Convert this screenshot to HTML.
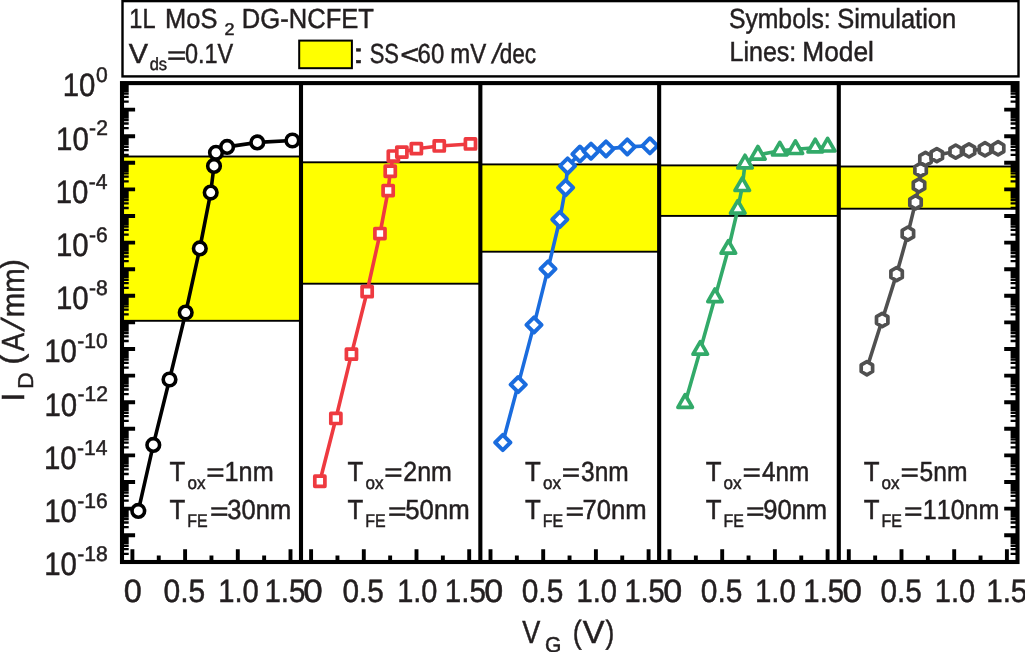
<!DOCTYPE html>
<html><head><meta charset="utf-8"><title>1L MoS2 DG-NCFET</title>
<style>html,body{margin:0;padding:0;background:#fff;overflow:hidden}svg{display:block}</style>
</head><body>
<svg width="1025" height="652" viewBox="0 0 1025 652" font-family="'Liberation Sans', sans-serif" style="font-kerning:none;text-rendering:geometricPrecision">
<rect x="0" y="0" width="1025" height="652" fill="#fff"/>
<rect x="122.5" y="1.1" width="896" height="75.3" fill="#fff" stroke="#000" stroke-width="2.4"/>
<rect x="122.0" y="156.5" width="179.0" height="164.3" fill="#ffff00" stroke="#000" stroke-width="1.9"/>
<rect x="301.0" y="162.3" width="179.4" height="121.4" fill="#ffff00" stroke="#000" stroke-width="1.9"/>
<rect x="480.35" y="164.4" width="178.8" height="87.3" fill="#ffff00" stroke="#000" stroke-width="1.9"/>
<rect x="659.15" y="165.4" width="179.6" height="50.5" fill="#ffff00" stroke="#000" stroke-width="1.9"/>
<rect x="838.8" y="166.5" width="178.7" height="42.2" fill="#ffff00" stroke="#000" stroke-width="1.9"/>
<rect x="299.2" y="40.6" width="52.7" height="27.6" fill="#ffff00" stroke="#000" stroke-width="2"/>
<path d="M122.0 109.60H135.1 M1017.45 109.60H1004.2 M122.0 136.20H135.1 M1017.45 136.20H1004.2 M122.0 162.80H135.1 M1017.45 162.80H1004.2 M122.0 189.40H135.1 M1017.45 189.40H1004.2 M122.0 216.00H135.1 M1017.45 216.00H1004.2 M122.0 242.60H135.1 M1017.45 242.60H1004.2 M122.0 269.20H135.1 M1017.45 269.20H1004.2 M122.0 295.80H135.1 M1017.45 295.80H1004.2 M122.0 322.40H135.1 M1017.45 322.40H1004.2 M122.0 349.00H135.1 M1017.45 349.00H1004.2 M122.0 375.60H135.1 M1017.45 375.60H1004.2 M122.0 402.20H135.1 M1017.45 402.20H1004.2 M122.0 428.80H135.1 M1017.45 428.80H1004.2 M122.0 455.40H135.1 M1017.45 455.40H1004.2 M122.0 482.00H135.1 M1017.45 482.00H1004.2 M122.0 508.60H135.1 M1017.45 508.60H1004.2 M122.0 535.20H135.1 M1017.45 535.20H1004.2" stroke="#000" stroke-width="3.9" fill="none"/>
<path d="M122.0 101.59H128.7 M1017.45 101.59H1010.6 M122.0 96.91H128.7 M1017.45 96.91H1010.6 M122.0 93.59H128.7 M1017.45 93.59H1010.6 M122.0 91.01H128.7 M1017.45 91.01H1010.6 M122.0 88.90H128.7 M1017.45 88.90H1010.6 M122.0 87.12H128.7 M1017.45 87.12H1010.6 M122.0 85.58H128.7 M1017.45 85.58H1010.6 M122.0 84.22H128.7 M1017.45 84.22H1010.6 M122.0 128.19H128.7 M1017.45 128.19H1010.6 M122.0 123.51H128.7 M1017.45 123.51H1010.6 M122.0 120.19H128.7 M1017.45 120.19H1010.6 M122.0 117.61H128.7 M1017.45 117.61H1010.6 M122.0 115.50H128.7 M1017.45 115.50H1010.6 M122.0 113.72H128.7 M1017.45 113.72H1010.6 M122.0 112.18H128.7 M1017.45 112.18H1010.6 M122.0 110.82H128.7 M1017.45 110.82H1010.6 M122.0 154.79H128.7 M1017.45 154.79H1010.6 M122.0 150.11H128.7 M1017.45 150.11H1010.6 M122.0 146.79H128.7 M1017.45 146.79H1010.6 M122.0 144.21H128.7 M1017.45 144.21H1010.6 M122.0 142.10H128.7 M1017.45 142.10H1010.6 M122.0 140.32H128.7 M1017.45 140.32H1010.6 M122.0 138.78H128.7 M1017.45 138.78H1010.6 M122.0 137.42H128.7 M1017.45 137.42H1010.6 M122.0 181.39H128.7 M1017.45 181.39H1010.6 M122.0 176.71H128.7 M1017.45 176.71H1010.6 M122.0 173.39H128.7 M1017.45 173.39H1010.6 M122.0 170.81H128.7 M1017.45 170.81H1010.6 M122.0 168.70H128.7 M1017.45 168.70H1010.6 M122.0 166.92H128.7 M1017.45 166.92H1010.6 M122.0 165.38H128.7 M1017.45 165.38H1010.6 M122.0 164.02H128.7 M1017.45 164.02H1010.6 M122.0 207.99H128.7 M1017.45 207.99H1010.6 M122.0 203.31H128.7 M1017.45 203.31H1010.6 M122.0 199.99H128.7 M1017.45 199.99H1010.6 M122.0 197.41H128.7 M1017.45 197.41H1010.6 M122.0 195.30H128.7 M1017.45 195.30H1010.6 M122.0 193.52H128.7 M1017.45 193.52H1010.6 M122.0 191.98H128.7 M1017.45 191.98H1010.6 M122.0 190.62H128.7 M1017.45 190.62H1010.6 M122.0 234.59H128.7 M1017.45 234.59H1010.6 M122.0 229.91H128.7 M1017.45 229.91H1010.6 M122.0 226.59H128.7 M1017.45 226.59H1010.6 M122.0 224.01H128.7 M1017.45 224.01H1010.6 M122.0 221.90H128.7 M1017.45 221.90H1010.6 M122.0 220.12H128.7 M1017.45 220.12H1010.6 M122.0 218.58H128.7 M1017.45 218.58H1010.6 M122.0 217.22H128.7 M1017.45 217.22H1010.6 M122.0 261.19H128.7 M1017.45 261.19H1010.6 M122.0 256.51H128.7 M1017.45 256.51H1010.6 M122.0 253.19H128.7 M1017.45 253.19H1010.6 M122.0 250.61H128.7 M1017.45 250.61H1010.6 M122.0 248.50H128.7 M1017.45 248.50H1010.6 M122.0 246.72H128.7 M1017.45 246.72H1010.6 M122.0 245.18H128.7 M1017.45 245.18H1010.6 M122.0 243.82H128.7 M1017.45 243.82H1010.6 M122.0 287.79H128.7 M1017.45 287.79H1010.6 M122.0 283.11H128.7 M1017.45 283.11H1010.6 M122.0 279.79H128.7 M1017.45 279.79H1010.6 M122.0 277.21H128.7 M1017.45 277.21H1010.6 M122.0 275.10H128.7 M1017.45 275.10H1010.6 M122.0 273.32H128.7 M1017.45 273.32H1010.6 M122.0 271.78H128.7 M1017.45 271.78H1010.6 M122.0 270.42H128.7 M1017.45 270.42H1010.6 M122.0 314.39H128.7 M1017.45 314.39H1010.6 M122.0 309.71H128.7 M1017.45 309.71H1010.6 M122.0 306.39H128.7 M1017.45 306.39H1010.6 M122.0 303.81H128.7 M1017.45 303.81H1010.6 M122.0 301.70H128.7 M1017.45 301.70H1010.6 M122.0 299.92H128.7 M1017.45 299.92H1010.6 M122.0 298.38H128.7 M1017.45 298.38H1010.6 M122.0 297.02H128.7 M1017.45 297.02H1010.6 M122.0 340.99H128.7 M1017.45 340.99H1010.6 M122.0 336.31H128.7 M1017.45 336.31H1010.6 M122.0 332.99H128.7 M1017.45 332.99H1010.6 M122.0 330.41H128.7 M1017.45 330.41H1010.6 M122.0 328.30H128.7 M1017.45 328.30H1010.6 M122.0 326.52H128.7 M1017.45 326.52H1010.6 M122.0 324.98H128.7 M1017.45 324.98H1010.6 M122.0 323.62H128.7 M1017.45 323.62H1010.6 M122.0 367.59H128.7 M1017.45 367.59H1010.6 M122.0 362.91H128.7 M1017.45 362.91H1010.6 M122.0 359.59H128.7 M1017.45 359.59H1010.6 M122.0 357.01H128.7 M1017.45 357.01H1010.6 M122.0 354.90H128.7 M1017.45 354.90H1010.6 M122.0 353.12H128.7 M1017.45 353.12H1010.6 M122.0 351.58H128.7 M1017.45 351.58H1010.6 M122.0 350.22H128.7 M1017.45 350.22H1010.6 M122.0 394.19H128.7 M1017.45 394.19H1010.6 M122.0 389.51H128.7 M1017.45 389.51H1010.6 M122.0 386.19H128.7 M1017.45 386.19H1010.6 M122.0 383.61H128.7 M1017.45 383.61H1010.6 M122.0 381.50H128.7 M1017.45 381.50H1010.6 M122.0 379.72H128.7 M1017.45 379.72H1010.6 M122.0 378.18H128.7 M1017.45 378.18H1010.6 M122.0 376.82H128.7 M1017.45 376.82H1010.6 M122.0 420.79H128.7 M1017.45 420.79H1010.6 M122.0 416.11H128.7 M1017.45 416.11H1010.6 M122.0 412.79H128.7 M1017.45 412.79H1010.6 M122.0 410.21H128.7 M1017.45 410.21H1010.6 M122.0 408.10H128.7 M1017.45 408.10H1010.6 M122.0 406.32H128.7 M1017.45 406.32H1010.6 M122.0 404.78H128.7 M1017.45 404.78H1010.6 M122.0 403.42H128.7 M1017.45 403.42H1010.6 M122.0 447.39H128.7 M1017.45 447.39H1010.6 M122.0 442.71H128.7 M1017.45 442.71H1010.6 M122.0 439.39H128.7 M1017.45 439.39H1010.6 M122.0 436.81H128.7 M1017.45 436.81H1010.6 M122.0 434.70H128.7 M1017.45 434.70H1010.6 M122.0 432.92H128.7 M1017.45 432.92H1010.6 M122.0 431.38H128.7 M1017.45 431.38H1010.6 M122.0 430.02H128.7 M1017.45 430.02H1010.6 M122.0 473.99H128.7 M1017.45 473.99H1010.6 M122.0 469.31H128.7 M1017.45 469.31H1010.6 M122.0 465.99H128.7 M1017.45 465.99H1010.6 M122.0 463.41H128.7 M1017.45 463.41H1010.6 M122.0 461.30H128.7 M1017.45 461.30H1010.6 M122.0 459.52H128.7 M1017.45 459.52H1010.6 M122.0 457.98H128.7 M1017.45 457.98H1010.6 M122.0 456.62H128.7 M1017.45 456.62H1010.6 M122.0 500.59H128.7 M1017.45 500.59H1010.6 M122.0 495.91H128.7 M1017.45 495.91H1010.6 M122.0 492.59H128.7 M1017.45 492.59H1010.6 M122.0 490.01H128.7 M1017.45 490.01H1010.6 M122.0 487.90H128.7 M1017.45 487.90H1010.6 M122.0 486.12H128.7 M1017.45 486.12H1010.6 M122.0 484.58H128.7 M1017.45 484.58H1010.6 M122.0 483.22H128.7 M1017.45 483.22H1010.6 M122.0 527.19H128.7 M1017.45 527.19H1010.6 M122.0 522.51H128.7 M1017.45 522.51H1010.6 M122.0 519.19H128.7 M1017.45 519.19H1010.6 M122.0 516.61H128.7 M1017.45 516.61H1010.6 M122.0 514.50H128.7 M1017.45 514.50H1010.6 M122.0 512.72H128.7 M1017.45 512.72H1010.6 M122.0 511.18H128.7 M1017.45 511.18H1010.6 M122.0 509.82H128.7 M1017.45 509.82H1010.6 M122.0 553.79H128.7 M1017.45 553.79H1010.6 M122.0 549.11H128.7 M1017.45 549.11H1010.6 M122.0 545.79H128.7 M1017.45 545.79H1010.6 M122.0 543.21H128.7 M1017.45 543.21H1010.6 M122.0 541.10H128.7 M1017.45 541.10H1010.6 M122.0 539.32H128.7 M1017.45 539.32H1010.6 M122.0 537.78H128.7 M1017.45 537.78H1010.6 M122.0 536.42H128.7 M1017.45 536.42H1010.6" stroke="#000" stroke-width="2.3" fill="none"/>
<path d="M132.40 561.95V549.2 M185.10 561.95V549.2 M237.80 561.95V549.2 M290.50 561.95V549.2 M311.10 561.95V549.2 M363.80 561.95V549.2 M416.50 561.95V549.2 M469.20 561.95V549.2 M490.50 561.95V549.2 M543.20 561.95V549.2 M595.90 561.95V549.2 M648.60 561.95V549.2 M669.50 561.95V549.2 M722.20 561.95V549.2 M774.90 561.95V549.2 M827.60 561.95V549.2 M848.80 561.95V549.2 M901.50 561.95V549.2 M954.20 561.95V549.2 M1006.90 561.95V549.2" stroke="#000" stroke-width="3.9" fill="none"/>
<path d="M158.75 561.95V555.4 M211.45 561.95V555.4 M264.15 561.95V555.4 M337.45 561.95V555.4 M390.15 561.95V555.4 M442.85 561.95V555.4 M516.85 561.95V555.4 M569.55 561.95V555.4 M622.25 561.95V555.4 M695.85 561.95V555.4 M748.55 561.95V555.4 M801.25 561.95V555.4 M875.15 561.95V555.4 M927.85 561.95V555.4 M980.55 561.95V555.4" stroke="#000" stroke-width="3.9" fill="none"/>
<polyline points="138.3,510.9 153.3,444.9 169.5,379.5 185.7,312.6 199.8,248.4 210.7,192.6 214.0,165.9 216.0,152.8 227.1,146.9 257.3,142.4 292.4,140.5" fill="none" stroke="#000000" stroke-width="3.6" stroke-linejoin="round"/>
<g fill="#fff" stroke="#000000" stroke-width="3.6" stroke-linejoin="round">
<circle cx="138.3" cy="510.9" r="6.3"/>
<circle cx="153.3" cy="444.9" r="6.3"/>
<circle cx="169.5" cy="379.5" r="6.3"/>
<circle cx="185.7" cy="312.6" r="6.3"/>
<circle cx="199.8" cy="248.4" r="6.3"/>
<circle cx="210.7" cy="192.6" r="6.3"/>
<circle cx="214.0" cy="165.9" r="6.3"/>
<circle cx="216.0" cy="152.8" r="6.3"/>
<circle cx="227.1" cy="146.9" r="6.3"/>
<circle cx="257.3" cy="142.4" r="6.3"/>
<circle cx="292.4" cy="140.5" r="6.3"/>
</g>
<polyline points="319.9,481.3 335.9,418.5 351.5,354.1 367.1,291.7 380.0,233.6 388.1,190.6 390.3,171.3 393.4,156.1 401.8,152.2 416.4,148.7 439.3,146.0 470.5,144.0" fill="none" stroke="#ee3a40" stroke-width="3.6" stroke-linejoin="round"/>
<g fill="#fff" stroke="#ee3a40" stroke-width="3.7" stroke-linejoin="round">
<rect x="314.8" y="476.2" width="10.1" height="10.1"/>
<rect x="330.8" y="413.4" width="10.1" height="10.1"/>
<rect x="346.4" y="349.1" width="10.1" height="10.1"/>
<rect x="362.1" y="286.6" width="10.1" height="10.1"/>
<rect x="374.9" y="228.5" width="10.1" height="10.1"/>
<rect x="383.1" y="185.5" width="10.1" height="10.1"/>
<rect x="385.2" y="166.2" width="10.1" height="10.1"/>
<rect x="388.3" y="151.0" width="10.1" height="10.1"/>
<rect x="396.8" y="147.1" width="10.1" height="10.1"/>
<rect x="411.3" y="143.6" width="10.1" height="10.1"/>
<rect x="434.2" y="140.9" width="10.1" height="10.1"/>
<rect x="465.4" y="138.9" width="10.1" height="10.1"/>
</g>
<polyline points="502.8,442.5 518.2,384.6 534.0,324.9 548.0,268.9 559.8,219.5 565.6,187.7 567.6,165.9 579.9,154.1 591.0,151.2 606.0,148.9 627.3,146.9 649.9,145.8" fill="none" stroke="#1a6cde" stroke-width="3.6" stroke-linejoin="round"/>
<g fill="#fff" stroke="#1a6cde" stroke-width="3.9" stroke-linejoin="round">
<path d="M502.8 434.9L510.4 442.5L502.8 450.1L495.2 442.5Z"/>
<path d="M518.2 377.0L525.8 384.6L518.2 392.2L510.6 384.6Z"/>
<path d="M534.0 317.3L541.6 324.9L534.0 332.5L526.4 324.9Z"/>
<path d="M548.0 261.3L555.6 268.9L548.0 276.5L540.4 268.9Z"/>
<path d="M559.8 211.9L567.4 219.5L559.8 227.1L552.2 219.5Z"/>
<path d="M565.6 180.1L573.2 187.7L565.6 195.3L558.0 187.7Z"/>
<path d="M567.6 158.3L575.2 165.9L567.6 173.5L560.0 165.9Z"/>
<path d="M579.9 146.5L587.5 154.1L579.9 161.7L572.3 154.1Z"/>
<path d="M591.0 143.6L598.6 151.2L591.0 158.8L583.4 151.2Z"/>
<path d="M606.0 141.3L613.6 148.9L606.0 156.5L598.4 148.9Z"/>
<path d="M627.3 139.3L634.9 146.9L627.3 154.5L619.7 146.9Z"/>
<path d="M649.9 138.2L657.5 145.8L649.9 153.4L642.3 145.8Z"/>
</g>
<polyline points="685.1,403.1 700.3,350.0 715.0,297.4 728.4,249.0 737.8,209.0 742.3,186.3 745.0,163.7 757.9,154.9 779.8,150.8 795.4,149.3 815.3,147.7 827.6,146.8" fill="none" stroke="#32aa69" stroke-width="3.6" stroke-linejoin="round"/>
<g fill="#fff" stroke="#32aa69" stroke-width="3.7" stroke-linejoin="round">
<path d="M685.1 394.7L692.4 407.3L677.9 407.3Z"/>
<path d="M700.3 341.6L707.5 354.2L693.0 354.2Z"/>
<path d="M715.0 289.0L722.2 301.6L707.8 301.6Z"/>
<path d="M728.4 240.6L735.6 253.2L721.1 253.2Z"/>
<path d="M737.8 200.6L745.0 213.2L730.5 213.2Z"/>
<path d="M742.3 177.9L749.5 190.5L735.0 190.5Z"/>
<path d="M745.0 155.3L752.2 167.9L737.8 167.9Z"/>
<path d="M757.9 146.5L765.1 159.1L750.6 159.1Z"/>
<path d="M779.8 142.4L787.0 155.0L772.5 155.0Z"/>
<path d="M795.4 140.9L802.6 153.5L788.1 153.5Z"/>
<path d="M815.3 139.3L822.5 151.9L808.0 151.9Z"/>
<path d="M827.6 138.4L834.9 151.0L820.4 151.0Z"/>
</g>
<polyline points="866.9,368.2 882.2,320.0 896.6,274.1 907.9,233.6 915.5,202.3 919.0,185.4 920.6,169.8 925.5,159.0 936.8,155.1 955.7,151.6 969.0,150.4 985.0,149.3 998.1,148.3" fill="none" stroke="#505050" stroke-width="3.6" stroke-linejoin="round"/>
<g fill="#fff" stroke="#505050" stroke-width="3.7" stroke-linejoin="round">
<path d="M866.9 361.6L872.6 364.9L872.6 371.5L866.9 374.8L861.2 371.5L861.2 364.9Z"/>
<path d="M882.2 313.4L887.9 316.7L887.9 323.3L882.2 326.6L876.5 323.3L876.5 316.7Z"/>
<path d="M896.6 267.5L902.3 270.8L902.3 277.4L896.6 280.7L890.9 277.4L890.9 270.8Z"/>
<path d="M907.9 227.0L913.6 230.3L913.6 236.9L907.9 240.2L902.2 236.9L902.2 230.3Z"/>
<path d="M915.5 195.7L921.2 199.0L921.2 205.6L915.5 208.9L909.8 205.6L909.8 199.0Z"/>
<path d="M919.0 178.8L924.7 182.1L924.7 188.7L919.0 192.0L913.3 188.7L913.3 182.1Z"/>
<path d="M920.6 163.2L926.3 166.5L926.3 173.1L920.6 176.4L914.9 173.1L914.9 166.5Z"/>
<path d="M925.5 152.4L931.2 155.7L931.2 162.3L925.5 165.6L919.8 162.3L919.8 155.7Z"/>
<path d="M936.8 148.5L942.5 151.8L942.5 158.4L936.8 161.7L931.1 158.4L931.1 151.8Z"/>
<path d="M955.7 145.0L961.4 148.3L961.4 154.9L955.7 158.2L950.0 154.9L950.0 148.3Z"/>
<path d="M969.0 143.8L974.7 147.1L974.7 153.7L969.0 157.0L963.3 153.7L963.3 147.1Z"/>
<path d="M985.0 142.7L990.7 146.0L990.7 152.6L985.0 155.9L979.3 152.6L979.3 146.0Z"/>
<path d="M998.1 141.7L1003.8 145.0L1003.8 151.6L998.1 154.9L992.4 151.6L992.4 145.0Z"/>
</g>
<rect x="122.0" y="83.1" width="895.5" height="478.9" fill="none" stroke="#000" stroke-width="4.1"/>
<path d="M301.0 83.1V561.95 M480.35 83.1V561.95 M659.15 83.1V561.95 M838.8 83.1V561.95" stroke="#000" stroke-width="4.1" fill="none"/>
<text transform="translate(95.90,82.20) scale(0.9900,1)" font-size="21.3" fill="#231f20" stroke="#231f20" stroke-width="0.5">0</text>
<text transform="translate(62.78,96.40) scale(0.9098,1)" font-size="32.3" fill="#231f20" stroke="#231f20" stroke-width="0.5">10</text>
<text transform="translate(89.11,135.40) scale(0.9900,1)" font-size="21.3" fill="#231f20" stroke="#231f20" stroke-width="0.5">-2</text>
<text transform="translate(56.11,149.60) scale(0.9098,1)" font-size="32.3" fill="#231f20" stroke="#231f20" stroke-width="0.5">10</text>
<text transform="translate(88.67,188.60) scale(0.9900,1)" font-size="21.3" fill="#231f20" stroke="#231f20" stroke-width="0.5">-4</text>
<text transform="translate(55.67,202.80) scale(0.9098,1)" font-size="32.3" fill="#231f20" stroke="#231f20" stroke-width="0.5">10</text>
<text transform="translate(88.98,241.80) scale(0.9900,1)" font-size="21.3" fill="#231f20" stroke="#231f20" stroke-width="0.5">-6</text>
<text transform="translate(55.98,256.00) scale(0.9098,1)" font-size="32.3" fill="#231f20" stroke="#231f20" stroke-width="0.5">10</text>
<text transform="translate(88.97,295.00) scale(0.9900,1)" font-size="21.3" fill="#231f20" stroke="#231f20" stroke-width="0.5">-8</text>
<text transform="translate(55.97,309.20) scale(0.9098,1)" font-size="32.3" fill="#231f20" stroke="#231f20" stroke-width="0.5">10</text>
<text transform="translate(77.15,348.20) scale(0.9900,1)" font-size="21.3" fill="#231f20" stroke="#231f20" stroke-width="0.5">-10</text>
<text transform="translate(44.14,362.40) scale(0.9098,1)" font-size="32.3" fill="#231f20" stroke="#231f20" stroke-width="0.5">10</text>
<text transform="translate(77.38,401.40) scale(0.9900,1)" font-size="21.3" fill="#231f20" stroke="#231f20" stroke-width="0.5">-12</text>
<text transform="translate(44.38,415.60) scale(0.9098,1)" font-size="32.3" fill="#231f20" stroke="#231f20" stroke-width="0.5">10</text>
<text transform="translate(76.94,454.60) scale(0.9900,1)" font-size="21.3" fill="#231f20" stroke="#231f20" stroke-width="0.5">-14</text>
<text transform="translate(43.94,468.80) scale(0.9098,1)" font-size="32.3" fill="#231f20" stroke="#231f20" stroke-width="0.5">10</text>
<text transform="translate(77.25,507.80) scale(0.9900,1)" font-size="21.3" fill="#231f20" stroke="#231f20" stroke-width="0.5">-16</text>
<text transform="translate(44.25,522.00) scale(0.9098,1)" font-size="32.3" fill="#231f20" stroke="#231f20" stroke-width="0.5">10</text>
<text transform="translate(77.24,561.00) scale(0.9900,1)" font-size="21.3" fill="#231f20" stroke="#231f20" stroke-width="0.5">-18</text>
<text transform="translate(44.24,575.20) scale(0.9098,1)" font-size="32.3" fill="#231f20" stroke="#231f20" stroke-width="0.5">10</text>
<text transform="translate(123.73,601.90) scale(1.0039,1)" font-size="32.3" fill="#231f20" stroke="#231f20" stroke-width="0.5">0</text>
<text transform="translate(163.53,601.90) scale(0.9294,1)" font-size="32.3" fill="#231f20" stroke="#231f20" stroke-width="0.5">0.5</text>
<text transform="translate(218.28,601.90) scale(0.9034,1)" font-size="32.3" fill="#231f20" stroke="#231f20" stroke-width="0.5">1.0</text>
<text transform="translate(264.45,601.90) scale(0.9127,1)" font-size="32.3" fill="#231f20" stroke="#231f20" stroke-width="0.5">1.5</text>
<text transform="translate(303.34,601.90) scale(1.0816,1)" font-size="32.3" fill="#231f20" stroke="#231f20" stroke-width="0.5">0</text>
<text transform="translate(342.44,601.90) scale(0.9223,1)" font-size="32.3" fill="#231f20" stroke="#231f20" stroke-width="0.5">0.5</text>
<text transform="translate(397.20,601.90) scale(0.8961,1)" font-size="32.3" fill="#231f20" stroke="#231f20" stroke-width="0.5">1.0</text>
<text transform="translate(444.75,601.90) scale(0.9152,1)" font-size="32.3" fill="#231f20" stroke="#231f20" stroke-width="0.5">1.5</text>
<text transform="translate(484.37,601.90) scale(1.0557,1)" font-size="32.3" fill="#231f20" stroke="#231f20" stroke-width="0.5">0</text>
<text transform="translate(521.73,601.90) scale(0.9247,1)" font-size="32.3" fill="#231f20" stroke="#231f20" stroke-width="0.5">0.5</text>
<text transform="translate(576.48,601.90) scale(0.9034,1)" font-size="32.3" fill="#231f20" stroke="#231f20" stroke-width="0.5">1.0</text>
<text transform="translate(624.39,601.90) scale(0.8981,1)" font-size="32.3" fill="#231f20" stroke="#231f20" stroke-width="0.5">1.5</text>
<text transform="translate(663.27,601.90) scale(1.0557,1)" font-size="32.3" fill="#231f20" stroke="#231f20" stroke-width="0.5">0</text>
<text transform="translate(700.73,601.90) scale(0.9271,1)" font-size="32.3" fill="#231f20" stroke="#231f20" stroke-width="0.5">0.5</text>
<text transform="translate(754.95,601.90) scale(0.9131,1)" font-size="32.3" fill="#231f20" stroke="#231f20" stroke-width="0.5">1.0</text>
<text transform="translate(803.37,601.90) scale(0.9079,1)" font-size="32.3" fill="#231f20" stroke="#231f20" stroke-width="0.5">1.5</text>
<text transform="translate(842.54,601.90) scale(1.0816,1)" font-size="32.3" fill="#231f20" stroke="#231f20" stroke-width="0.5">0</text>
<text transform="translate(880.44,601.90) scale(0.9200,1)" font-size="32.3" fill="#231f20" stroke="#231f20" stroke-width="0.5">0.5</text>
<text transform="translate(934.78,601.90) scale(0.9009,1)" font-size="32.3" fill="#231f20" stroke="#231f20" stroke-width="0.5">1.0</text>
<text transform="translate(986.25,601.90) scale(0.9127,1)" font-size="32.3" fill="#231f20" stroke="#231f20" stroke-width="0.5">1.5</text>
<text transform="translate(522.18,642.60) scale(0.8451,1)" font-size="32" fill="#231f20" stroke="#231f20" stroke-width="0.5">V</text>
<text transform="translate(545.04,651.60) scale(0.9761,1)" font-size="21.5" fill="#231f20" stroke="#231f20" stroke-width="0.5">G</text>
<text transform="translate(572.74,642.60) scale(0.8368,1)" font-size="32" fill="#231f20" stroke="#231f20" stroke-width="0.5">(</text>
<text transform="translate(582.86,642.60) scale(1.0208,1)" font-size="32" fill="#231f20" stroke="#231f20" stroke-width="0.5">V</text>
<text transform="translate(605.45,642.60) scale(0.8250,1)" font-size="32" fill="#231f20" stroke="#231f20" stroke-width="0.5">)</text>
<text transform="translate(23.70,401.77) rotate(-90) scale(1.0387,1)" font-size="32" fill="#231f20" stroke="#231f20" stroke-width="0.5">I</text>
<text transform="translate(32.70,388.90) rotate(-90) scale(1.0758,1)" font-size="21.5" fill="#231f20" stroke="#231f20" stroke-width="0.5">D</text>
<text transform="translate(21.70,364.73) rotate(-90) scale(1.0254,1)" font-size="32" fill="#231f20" stroke="#231f20" stroke-width="0.5">(</text>
<text transform="translate(23.70,350.95) rotate(-90) scale(0.8483,1)" font-size="32" fill="#231f20" stroke="#231f20" stroke-width="0.5">A</text>
<text transform="translate(23.7,331.8) rotate(-90) skewX(-14)" font-size="32" fill="#231f20" stroke="#231f20" stroke-width="0.5">/</text>
<text transform="translate(23.70,317.35) rotate(-90) scale(0.9189,1)" font-size="32" fill="#231f20" stroke="#231f20" stroke-width="0.5">mm</text>
<text transform="translate(21.70,269.48) rotate(-90) scale(0.9783,1)" font-size="32" fill="#231f20" stroke="#231f20" stroke-width="0.5">)</text>
<text transform="translate(129.31,27.90) scale(0.8526,1)" font-size="27.6" fill="#231f20" stroke="#231f20" stroke-width="0.5">1L</text>
<text transform="translate(165.11,27.90) scale(0.9226,1)" font-size="27.6" fill="#231f20" stroke="#231f20" stroke-width="0.5">MoS</text>
<text transform="translate(224.59,35.40) scale(1.0588,1)" font-size="17" fill="#231f20" stroke="#231f20" stroke-width="0.5">2</text>
<text transform="translate(241.80,27.90) scale(0.9271,1)" font-size="27.6" fill="#231f20" stroke="#231f20" stroke-width="0.5">DG-NCFET</text>
<text transform="translate(128.87,62.90) scale(1.0459,1)" font-size="27.6" fill="#231f20" stroke="#231f20" stroke-width="0.5">V</text>
<text transform="translate(149.71,70.40) scale(0.9407,1)" font-size="17.5" fill="#231f20" stroke="#231f20" stroke-width="0.5">ds</text>
<text transform="translate(167.08,63.50) scale(1.2007,0.93)" font-size="27.6" fill="#231f20" stroke="#231f20" stroke-width="0.5">=</text>
<text transform="translate(184.88,62.90) scale(0.8493,1)" font-size="27.6" fill="#231f20" stroke="#231f20" stroke-width="0.5">0.1V</text>
<text transform="translate(352.86,62.90) scale(1.4841,1)" font-size="27.6" fill="#231f20" stroke="#231f20" stroke-width="0.5">:</text>
<text transform="translate(369.70,62.90) scale(0.7960,1)" font-size="27.6" fill="#231f20" stroke="#231f20" stroke-width="0.5">SS</text>
<text transform="translate(400.19,64.40) scale(1.1858,1)" font-size="27.6" fill="#231f20" stroke="#231f20" stroke-width="0.5">&lt;</text>
<text transform="translate(417.58,62.90) scale(0.8682,1)" font-size="27.6" fill="#231f20" stroke="#231f20" stroke-width="0.5">60</text>
<text transform="translate(450.21,62.90) scale(0.8695,1)" font-size="27.6" fill="#231f20" stroke="#231f20" stroke-width="0.5">mV</text>
<text transform="translate(491.1,62.9) skewX(-10)" font-size="27.6" fill="#231f20" stroke="#231f20" stroke-width="0.5">/</text>
<text transform="translate(499.65,62.90) scale(0.8190,1)" font-size="27.6" fill="#231f20" stroke="#231f20" stroke-width="0.5">dec</text>
<text transform="translate(728.88,27.90) scale(0.8968,1)" font-size="27.6" fill="#231f20" stroke="#231f20" stroke-width="0.5">Symbols:</text>
<text transform="translate(837.14,27.90) scale(0.9244,1)" font-size="27.6" fill="#231f20" stroke="#231f20" stroke-width="0.5">Simulation</text>
<text transform="translate(729.55,60.70) scale(0.9061,1)" font-size="27.6" fill="#231f20" stroke="#231f20" stroke-width="0.5">Lines:</text>
<text transform="translate(802.34,60.70) scale(0.9527,1)" font-size="27.6" fill="#231f20" stroke="#231f20" stroke-width="0.5">Model</text>
<text transform="translate(169.62,480.80) scale(0.9355,1)" font-size="27.6" fill="#231f20" stroke="#231f20" stroke-width="0.5">T</text>
<text transform="translate(187.48,488.60) scale(0.9468,1)" font-size="18" fill="#231f20" stroke="#231f20" stroke-width="0.5">ox</text>
<text transform="translate(206.36,481.40) scale(1.1410,0.93)" font-size="27.6" fill="#231f20" stroke="#231f20" stroke-width="0.5">=</text>
<text transform="translate(224.58,480.80) scale(0.9142,1)" font-size="27.6" fill="#231f20" stroke="#231f20" stroke-width="0.5">1nm</text>
<text transform="translate(169.62,519.30) scale(0.9355,1)" font-size="27.6" fill="#231f20" stroke="#231f20" stroke-width="0.5">T</text>
<text transform="translate(187.29,527.20) scale(0.8722,1)" font-size="18.3" fill="#231f20" stroke="#231f20" stroke-width="0.5">FE</text>
<text transform="translate(209.94,519.90) scale(1.1559,0.93)" font-size="27.6" fill="#231f20" stroke="#231f20" stroke-width="0.5">=</text>
<text transform="translate(227.33,519.30) scale(0.9249,1)" font-size="27.6" fill="#231f20" stroke="#231f20" stroke-width="0.5">30nm</text>
<text transform="translate(347.62,480.80) scale(0.9355,1)" font-size="27.6" fill="#231f20" stroke="#231f20" stroke-width="0.5">T</text>
<text transform="translate(365.48,488.60) scale(0.9468,1)" font-size="18" fill="#231f20" stroke="#231f20" stroke-width="0.5">ox</text>
<text transform="translate(384.36,481.40) scale(1.1410,0.93)" font-size="27.6" fill="#231f20" stroke="#231f20" stroke-width="0.5">=</text>
<text transform="translate(403.24,480.80) scale(0.9053,1)" font-size="27.6" fill="#231f20" stroke="#231f20" stroke-width="0.5">2nm</text>
<text transform="translate(347.62,519.30) scale(0.9355,1)" font-size="27.6" fill="#231f20" stroke="#231f20" stroke-width="0.5">T</text>
<text transform="translate(365.29,527.20) scale(0.8722,1)" font-size="18.3" fill="#231f20" stroke="#231f20" stroke-width="0.5">FE</text>
<text transform="translate(387.94,519.90) scale(1.1559,0.93)" font-size="27.6" fill="#231f20" stroke="#231f20" stroke-width="0.5">=</text>
<text transform="translate(405.27,519.30) scale(0.9332,1)" font-size="27.6" fill="#231f20" stroke="#231f20" stroke-width="0.5">50nm</text>
<text transform="translate(525.12,480.80) scale(0.9355,1)" font-size="27.6" fill="#231f20" stroke="#231f20" stroke-width="0.5">T</text>
<text transform="translate(542.98,488.60) scale(0.9468,1)" font-size="18" fill="#231f20" stroke="#231f20" stroke-width="0.5">ox</text>
<text transform="translate(561.86,481.40) scale(1.1410,0.93)" font-size="27.6" fill="#231f20" stroke="#231f20" stroke-width="0.5">=</text>
<text transform="translate(581.07,480.80) scale(0.8874,1)" font-size="27.6" fill="#231f20" stroke="#231f20" stroke-width="0.5">3nm</text>
<text transform="translate(525.12,519.30) scale(0.9355,1)" font-size="27.6" fill="#231f20" stroke="#231f20" stroke-width="0.5">T</text>
<text transform="translate(542.79,527.20) scale(0.8722,1)" font-size="18.3" fill="#231f20" stroke="#231f20" stroke-width="0.5">FE</text>
<text transform="translate(565.44,519.90) scale(1.1559,0.93)" font-size="27.6" fill="#231f20" stroke="#231f20" stroke-width="0.5">=</text>
<text transform="translate(582.48,519.30) scale(0.9300,1)" font-size="27.6" fill="#231f20" stroke="#231f20" stroke-width="0.5">70nm</text>
<text transform="translate(705.72,480.80) scale(0.9355,1)" font-size="27.6" fill="#231f20" stroke="#231f20" stroke-width="0.5">T</text>
<text transform="translate(723.58,488.60) scale(0.9468,1)" font-size="18" fill="#231f20" stroke="#231f20" stroke-width="0.5">ox</text>
<text transform="translate(742.46,481.40) scale(1.1410,0.93)" font-size="27.6" fill="#231f20" stroke="#231f20" stroke-width="0.5">=</text>
<text transform="translate(762.04,480.80) scale(0.8802,1)" font-size="27.6" fill="#231f20" stroke="#231f20" stroke-width="0.5">4nm</text>
<text transform="translate(705.72,519.30) scale(0.9355,1)" font-size="27.6" fill="#231f20" stroke="#231f20" stroke-width="0.5">T</text>
<text transform="translate(723.39,527.20) scale(0.8722,1)" font-size="18.3" fill="#231f20" stroke="#231f20" stroke-width="0.5">FE</text>
<text transform="translate(746.04,519.90) scale(1.1559,0.93)" font-size="27.6" fill="#231f20" stroke="#231f20" stroke-width="0.5">=</text>
<text transform="translate(763.20,519.30) scale(0.9268,1)" font-size="27.6" fill="#231f20" stroke="#231f20" stroke-width="0.5">90nm</text>
<text transform="translate(863.72,480.80) scale(0.9355,1)" font-size="27.6" fill="#231f20" stroke="#231f20" stroke-width="0.5">T</text>
<text transform="translate(881.58,488.60) scale(0.9468,1)" font-size="18" fill="#231f20" stroke="#231f20" stroke-width="0.5">ox</text>
<text transform="translate(900.46,481.40) scale(1.1410,0.93)" font-size="27.6" fill="#231f20" stroke="#231f20" stroke-width="0.5">=</text>
<text transform="translate(919.61,480.80) scale(0.8923,1)" font-size="27.6" fill="#231f20" stroke="#231f20" stroke-width="0.5">5nm</text>
<text transform="translate(863.72,519.30) scale(0.9355,1)" font-size="27.6" fill="#231f20" stroke="#231f20" stroke-width="0.5">T</text>
<text transform="translate(881.39,527.20) scale(0.8722,1)" font-size="18.3" fill="#231f20" stroke="#231f20" stroke-width="0.5">FE</text>
<text transform="translate(904.04,519.90) scale(1.1559,0.93)" font-size="27.6" fill="#231f20" stroke="#231f20" stroke-width="0.5">=</text>
<text transform="translate(922.79,519.30) scale(0.9072,1)" font-size="27.6" fill="#231f20" stroke="#231f20" stroke-width="0.5">110nm</text>
</svg>
</body></html>
